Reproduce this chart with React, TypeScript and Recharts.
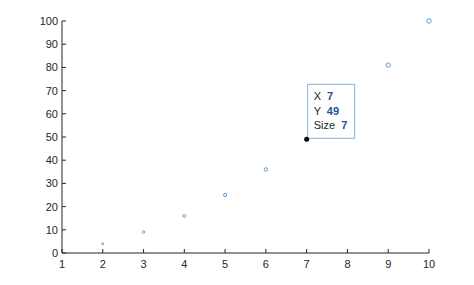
import React from 'react';
import {
  ScatterChart,
  Scatter,
  XAxis,
  YAxis,
  ReferenceDot,
} from 'recharts';

const xValues = [1, 2, 3, 4, 5, 6, 7, 8, 9, 10];
const yValues = [1, 4, 9, 16, 25, 36, 49, 64, 81, 100];
const sizeValues = [1, 2, 3, 4, 5, 6, 7, 8, 9, 10];
const xTicks = [1, 2, 3, 4, 5, 6, 7, 8, 9, 10];
const yTicks = [0, 10, 20, 30, 40, 50, 60, 70, 80, 90, 100];

const tipX = 7;
const tipY = 49;
const tipSize = 7;

const data = xValues.map((x, i) => ({ x, y: yValues[i], size: sizeValues[i] }));

const axisColor = '#262626';
const font = 'Arial, "Liberation Sans", Helvetica, sans-serif';

const XTick = (props: any) => {
  const { x, y, payload } = props;
  return (
    <g>
      <line x1={x} y1={y} x2={x} y2={y - 4} stroke={axisColor} strokeWidth={1} />
      <text x={x} y={y + 15} textAnchor="middle" fontSize={11} fill={axisColor} fontFamily={font}>
        {payload.value}
      </text>
    </g>
  );
};

const YTick = (props: any) => {
  const { x, y, payload } = props;
  return (
    <g>
      <line x1={x} y1={y} x2={x + 4} y2={y} stroke={axisColor} strokeWidth={1} />
      <text x={x - 4} y={y + 4} textAnchor="end" fontSize={11} fill={axisColor} fontFamily={font}>
        {payload.value}
      </text>
    </g>
  );
};

const Marker = (props: any) => {
  const { cx, cy, payload } = props;
  const r = Math.sqrt(payload.size) * 0.7;
  return <circle cx={cx} cy={cy} r={r} fill="none" stroke="#5b9bd5" strokeWidth={1} />;
};

const DataTip = (props: any) => {
  const { cx, cy } = props;
  const bx = cx + 1;
  const by = cy - 55;
  return (
    <g fontFamily={font} fontSize={11}>
      <rect x={bx} y={by} width={47} height={54} fill="#ffffff" stroke="#7fb2e5" strokeWidth={1} />
      <text x={bx + 6} y={by + 16} fill={axisColor}>
        X <tspan fill="#1f4e9c" fontWeight="bold" dx={3}>{tipX}</tspan>
      </text>
      <text x={bx + 6} y={by + 31} fill={axisColor}>
        Y <tspan fill="#1f4e9c" fontWeight="bold" dx={3}>{tipY}</tspan>
      </text>
      <text x={bx + 6} y={by + 45} fill={axisColor}>
        Size <tspan fill="#1f4e9c" fontWeight="bold" dx={3}>{tipSize}</tspan>
      </text>
      <circle cx={cx} cy={cy} r={2.5} fill="#111111" />
    </g>
  );
};

export default function App() {
  return (
    <div style={{ position: 'absolute', left: 0, top: 0, background: '#fff' }}>
      <ScatterChart
        width={474}
        height={285}
        margin={{ top: 21, right: 45, left: 0, bottom: 0 }}
      >
        <XAxis
          type="number"
          dataKey="x"
          domain={[1, 10]}
          ticks={xTicks}
          height={32}
          tickSize={0}
          tickMargin={0}
          tick={<XTick />}
          axisLine={{ stroke: axisColor }}
          interval={0}
        />
        <YAxis
          type="number"
          dataKey="y"
          domain={[0, 100]}
          ticks={yTicks}
          width={62}
          tickSize={0}
          tickMargin={0}
          tick={<YTick />}
          axisLine={{ stroke: axisColor }}
          interval={0}
        />
        <Scatter data={data} shape={<Marker />} isAnimationActive={false} />
        <ReferenceDot x={tipX} y={tipY} shape={<DataTip />} ifOverflow="visible" />
      </ScatterChart>
    </div>
  );
}
